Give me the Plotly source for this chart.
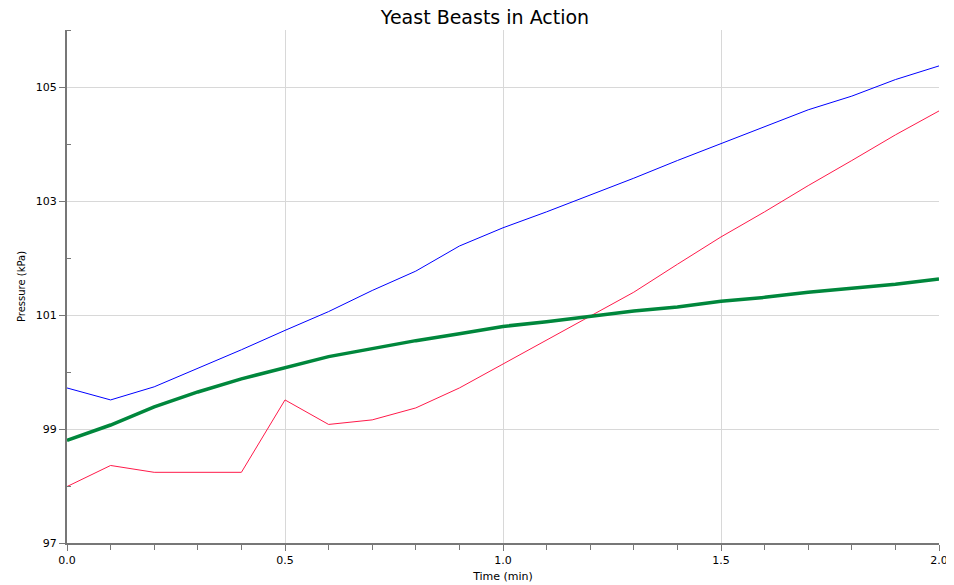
import plotly.graph_objects as go

time = [round(i*0.1, 1) for i in range(21)]
blue = [99.72,99.51,99.74,100.06,100.39,100.73,101.06,101.43,101.77,102.21,102.53,102.81,103.10,103.40,103.71,104.01,104.31,104.60,104.84,105.13,105.37]
red = [97.99,98.36,98.24,98.24,98.24,99.51,99.08,99.16,99.37,99.72,100.14,100.55,100.98,101.40,101.89,102.37,102.81,103.27,103.71,104.16,104.58]
green = [98.80,99.07,99.39,99.65,99.88,100.07,100.27,100.41,100.55,100.67,100.80,100.88,100.97,101.07,101.14,101.24,101.31,101.40,101.47,101.54,101.63]

fig = go.Figure()
fig.add_trace(go.Scatter(x=time, y=blue, mode="lines", line=dict(color="#0000ff", width=1)))
fig.add_trace(go.Scatter(x=time, y=red, mode="lines", line=dict(color="#ff1a4a", width=1)))
fig.add_trace(go.Scatter(x=time, y=green, mode="lines", line=dict(color="#00873c", width=3.5)))

fig.update_layout(
    width=954, height=585, showlegend=False,
    plot_bgcolor="white", paper_bgcolor="white",
    margin=dict(l=59, r=23, t=22, b=48),
    font=dict(family="DejaVu Sans", color="black", size=11),
    title=dict(text="Yeast Beasts in Action", x=0.5, xanchor="center", y=0.995, yanchor="top",
               font=dict(size=19, family="DejaVu Sans")),
    xaxis=dict(range=[0, 2], tickvals=[0, 0.5, 1, 1.5, 2], ticktext=["0.0","0.5","1.0","1.5","2.0"],
               showgrid=True, gridcolor="#d8d8d8", zeroline=False, showline=True, linecolor="#777",
               linewidth=2, ticks="outside", ticklen=6, tickcolor="#777",
               minor=dict(dtick=0.1, ticks="outside", ticklen=5, tickcolor="#777", showgrid=False),
               title=dict(text="Time (min)", font=dict(size=11), standoff=6)),
    yaxis=dict(range=[97, 106], tickvals=[97, 99, 101, 103, 105],
               showgrid=True, gridcolor="#d8d8d8", zeroline=False, showline=True, linecolor="#777",
               linewidth=2, ticks="outside", ticklen=6, tickcolor="#777",
               minor=dict(tickvals=[98,100,102,104,106], ticks="inside", ticklen=4, tickcolor="#777", showgrid=False),
               title=dict(text="Pressure (kPa)", font=dict(size=10), standoff=8)),
)
fig.write_html("out.html")
